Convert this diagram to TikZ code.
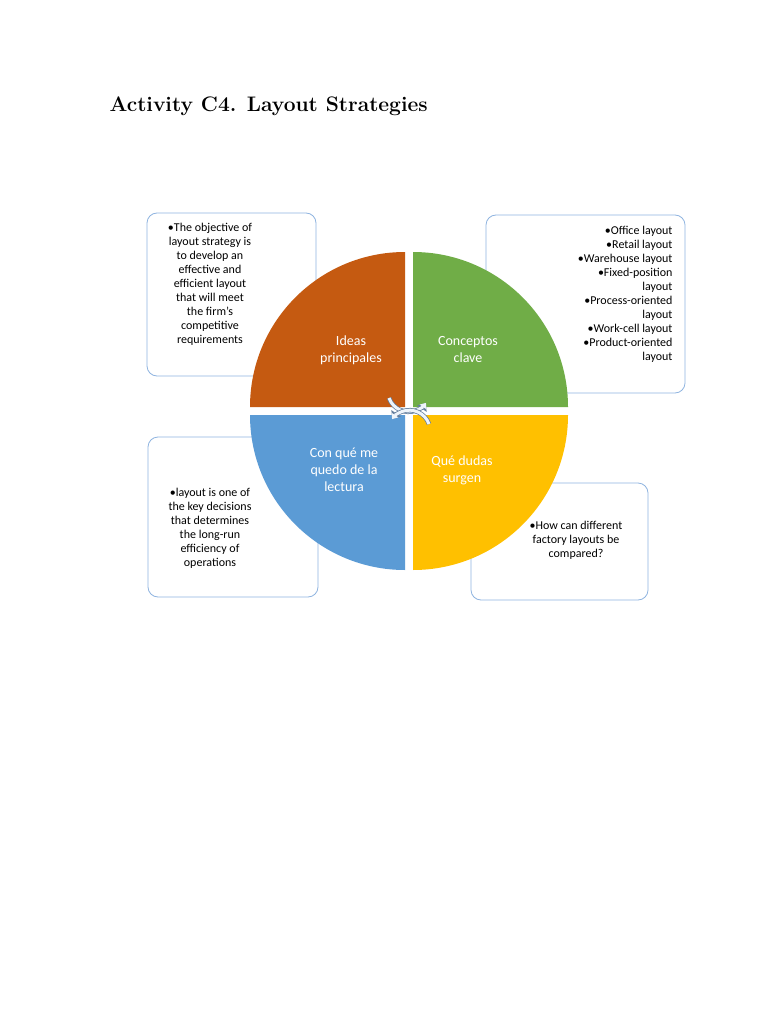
\documentclass[tikz,border=0pt]{standalone}
\usepackage{fontspec}
\setmainfont{Carlito}
\newfontfamily\titlefont{Latin Modern Roman}
\usetikzlibrary{arrows.meta}
\definecolor{qor}{HTML}{C55A11}
\definecolor{qgr}{HTML}{70AD47}
\definecolor{qbl}{HTML}{5B9BD5}
\definecolor{qye}{HTML}{FFC000}
\definecolor{bxb}{HTML}{8FB4E0}
\tikzset{
  infobox/.style={draw=bxb, line width=0.8pt, rounded corners=10pt, fill=white},
  qtext/.style={text=white, font=\fontsize{14}{17}\selectfont, align=center},
  btext/.style={font=\fontsize{12}{14}\selectfont, text=black},
}
\begin{document}
\begin{tikzpicture}[x=1pt,y=-1pt]
\useasboundingbox (0,0) rectangle (768,1024);
\fill[white] (0,0) rectangle (768,1024);
\node[anchor=west, font=\titlefont\bfseries\fontsize{21}{24}\selectfont] (title) at (106,106) {Activity C4. Layout Strategies};
% boxes
\draw[infobox] (147,213) rectangle (316,376);
\draw[infobox] (486,215) rectangle (685,393);
\draw[infobox] (148,437) rectangle (318,597);
\draw[infobox] (471,483) rectangle (648,600);
% quadrants
\def\R{155}
\fill[qor] (405,407) -- ++(-\R,0) arc[start angle=180,end angle=90,x radius=\R,y radius=-\R] -- cycle;
\fill[qgr] (413,407) -- ++(0,-\R) arc[start angle=90,end angle=0,x radius=\R,y radius=-\R] -- cycle;
\fill[qbl] (405,415) -- ++(-\R,0) arc[start angle=180,end angle=270,x radius=\R,y radius=-\R] -- cycle;
\fill[qye] (413,415) -- ++(\R,0) arc[start angle=0,end angle=-90,x radius=\R,y radius=-\R] -- cycle;
% quadrant labels
\node[qtext] (q1) at (351,350) {Ideas\\principales};
\node[qtext] (q2) at (468,350) {Conceptos\\clave};
\node[qtext] (q3) at (344,470) {Con qué me\\quedo de la\\lectura};
\node[qtext] (q4) at (462,470) {Qué dudas\\surgen};
% circular arrows
\coordinate (c) at (409,411);
\draw[draw=bxb!70!black, line width=4.5pt, -{Triangle[length=7pt,width=11pt]}] (389,398) arc[start angle=160,end angle=35,radius=21];
\draw[draw=white!85!bxb, line width=3pt, -{Triangle[length=5pt,width=8pt]}] (389,398) arc[start angle=160,end angle=35,radius=21];
\draw[draw=bxb!70!black, line width=4.5pt, -{Triangle[length=7pt,width=11pt]}] (429,424) arc[start angle=-20,end angle=-145,radius=21];
\draw[draw=white!85!bxb, line width=3pt, -{Triangle[length=5pt,width=8pt]}] (429,424) arc[start angle=-20,end angle=-145,radius=21];
% box texts
\node[btext, align=center, anchor=north] (t1) at (210,220) {•The objective of\\layout strategy is\\to develop an\\effective and\\efficient layout\\that will meet\\the firm’s\\competitive\\requirements};
\node[btext, align=right, anchor=north east] (t2) at (676,223) {•Office layout\\•Retail layout\\•Warehouse layout\\•Fixed-position\\layout\\•Process-oriented\\layout\\•Work-cell layout\\•Product-oriented\\layout};
\node[btext, align=center, anchor=north] (t3) at (210,485) {•layout is one of\\the key decisions\\that determines\\the long-run\\efficiency of\\operations};
\node[btext, align=center, anchor=north] (t4) at (576,518) {•How can different\\factory layouts be\\compared?};
\end{tikzpicture}
\end{document}
